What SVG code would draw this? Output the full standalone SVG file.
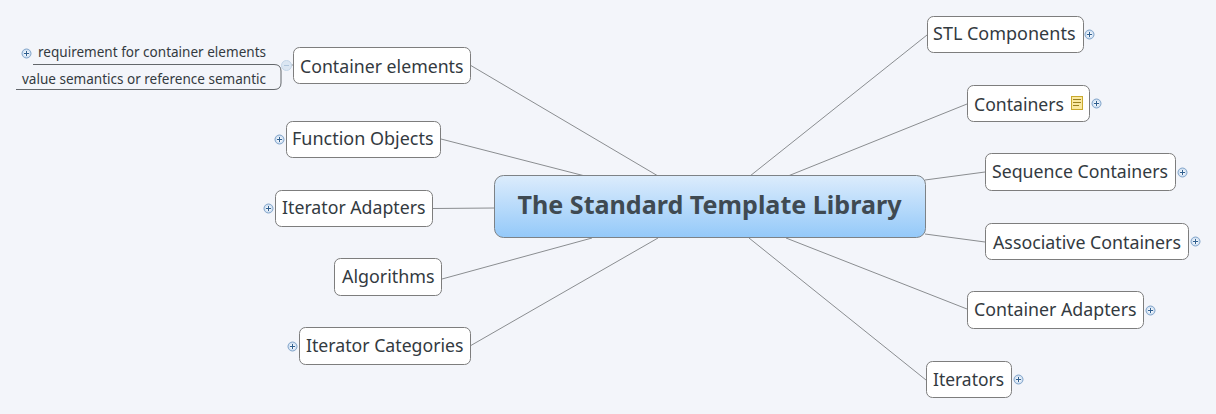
<svg xmlns="http://www.w3.org/2000/svg" width="1216" height="414" viewBox="0 0 1216 414">
<defs>
<linearGradient id="g" x1="0" y1="0" x2="0" y2="1"><stop offset="0" stop-color="#dcecfc"/><stop offset="1" stop-color="#94c9f9"/></linearGradient>
<g id="plus"><circle r="4.5" fill="#d3e2f3" stroke="#7fa3c9"/><circle r="2.6" fill="#f4f7fb" stroke="none"/><path d="M-2.500 0H2.500M0-2.500V2.500" stroke="#2f5f8f" stroke-width="1" fill="none"/></g>
</defs>
<style>
text{font-family:"Noto Sans","Open Sans","DejaVu Sans",sans-serif;fill:#333a3f}
.n rect{fill:#fff;stroke:#7d7d7d;stroke-width:1}
.n text{font-size:18px}
.s{font-size:13.5px}
#connectors path{fill:none;stroke:#8a8d90;stroke-width:1}
#connectors path.sub{stroke:#63676b}
</style>
<rect width="1216" height="414" fill="#f3f5fa"/>
<g id="connectors">
<path d="M470 65L658 176"/><path d="M441 139L585 176"/><path d="M433 208.500L495 208"/><path d="M442 279L592 238"/><path d="M470 346L658 238"/>
<path d="M927 35L750 176"/><path d="M967 104L788 176"/><path d="M985 172L925 180"/><path d="M985 242L925 234"/><path d="M967 309L786 238"/><path d="M926 380L749 238"/>
<path d="M293 65H286"/>
<path class="sub" d="M33 64.500H274Q281 64.500 281 71V83Q281 89.500 274 89.500H16"/>
</g>
<g id="root"><rect x="494.500" y="175.500" width="431" height="62" rx="9" fill="url(#g)" stroke="#7d8286"/><text x="517.500" y="214" font-size="25" font-weight="700" style="fill:#3f4a52" textLength="384" lengthAdjust="spacingAndGlyphs">The Standard Template Library</text></g>
<g id="n-container-elements" class="n"><rect x="293.500" y="47.500" width="177" height="36" rx="6"/><text x="300" y="73" textLength="163.500" lengthAdjust="spacingAndGlyphs">Container elements</text></g>
<g id="n-function-objects" class="n"><rect x="286.500" y="121.500" width="154" height="36" rx="6"/><text x="292" y="145" textLength="141.500" lengthAdjust="spacingAndGlyphs">Function Objects</text><use href="#plus" x="279.500" y="139.500"/></g>
<g id="n-iterator-adapters" class="n"><rect x="275.500" y="190.500" width="157" height="36" rx="6"/><text x="282" y="214" textLength="143.500" lengthAdjust="spacingAndGlyphs">Iterator Adapters</text><use href="#plus" x="268.500" y="208.500"/></g>
<g id="n-algorithms" class="n"><rect x="334.500" y="258.500" width="107" height="37" rx="6"/><text x="342" y="283" textLength="92.500" lengthAdjust="spacingAndGlyphs">Algorithms</text></g>
<g id="n-iterator-categories" class="n"><rect x="299.500" y="327.500" width="171" height="37" rx="6"/><text x="306" y="352" textLength="157.500" lengthAdjust="spacingAndGlyphs">Iterator Categories</text><use href="#plus" x="292.500" y="346.500"/></g>
<g id="n-stl-components" class="n"><rect x="927.500" y="16.500" width="156" height="36" rx="6"/><text x="933" y="40" textLength="142.500" lengthAdjust="spacingAndGlyphs">STL Components</text><use href="#plus" x="1089.500" y="34.500"/></g>
<g id="n-containers" class="n"><rect x="967.500" y="85.500" width="122" height="36" rx="6"/><text x="974" y="111" textLength="90" lengthAdjust="spacingAndGlyphs">Containers</text>
<rect x="1071.500" y="96.500" width="11" height="13" style="fill:#fbe9a0;stroke:#c9a92e"/><path d="M1073 99.500H1081M1073 102.500H1081M1073 105.500H1079" stroke="#9a8120" fill="none"/><use href="#plus" x="1096.500" y="103.500"/></g>
<g id="n-sequence-containers" class="n"><rect x="985.500" y="153.500" width="190" height="37" rx="6"/><text x="992" y="178" textLength="176" lengthAdjust="spacingAndGlyphs">Sequence Containers</text><use href="#plus" x="1182.500" y="172.500"/></g>
<g id="n-associative-containers" class="n"><rect x="985.500" y="223.500" width="203" height="36" rx="6"/><text x="993" y="249" textLength="188" lengthAdjust="spacingAndGlyphs">Associative Containers</text><use href="#plus" x="1195.500" y="241.500"/></g>
<g id="n-container-adapters" class="n"><rect x="967.500" y="291.500" width="176" height="37" rx="6"/><text x="974" y="316" textLength="162.500" lengthAdjust="spacingAndGlyphs">Container Adapters</text><use href="#plus" x="1150.500" y="310.500"/></g>
<g id="n-iterators" class="n"><rect x="926.500" y="361.500" width="85" height="36" rx="6"/><text x="933" y="386" textLength="71" lengthAdjust="spacingAndGlyphs">Iterators</text><use href="#plus" x="1018.500" y="379.500"/></g>
<g id="s-requirement"><use href="#plus" x="26.500" y="53.500"/><text class="s" x="38" y="57" textLength="228" lengthAdjust="spacingAndGlyphs">requirement for container elements</text></g>
<g id="s-value"><text class="s" x="22" y="84" textLength="244" lengthAdjust="spacingAndGlyphs">value semantics or reference semantic</text></g>
<g id="collapse"><circle cx="286.500" cy="65.500" r="5" fill="#dbe6f2" stroke="#c4d6e8"/><path d="M284 65.500H289" stroke="#b0c6dc"/></g>
</svg>
